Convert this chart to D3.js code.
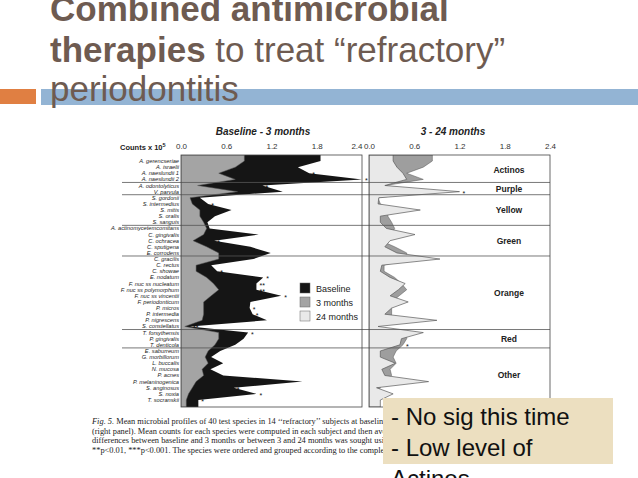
<!DOCTYPE html>
<html>
<head>
<meta charset="utf-8">
<script src="https://cdn.jsdelivr.net/npm/d3@7"></script>
<style>
    body { margin: 0; background: #fff; }
    svg { display: block; font-family: "Liberation Sans", Arial, sans-serif; }
</style>
</head>
<body>
<svg id="slide" width="638" height="478"></svg>
<script>
// Species in plot order (top to bottom)
const species = [
    "A. gerencseriae", "A. israelii", "A. naeslundii 1", "A. naeslundii 2",
    "A. odontolyticus", "V. parvula",
    "S. gordonii", "S. intermedius", "S. mitis", "S. oralis", "S. sanguis",
    "A. actinomycetemcomitans", "C. gingivalis", "C. ochracea", "C. sputigena", "E. corrodens",
    "C. gracilis", "C. rectus", "C. showae", "E. nodatum", "F. nuc ss nucleatum",
    "F. nuc ss polymorphum", "F. nuc ss vincentii", "F. periodonticum", "P. micros",
    "P. intermedia", "P. nigrescens", "S. constellatus",
    "T. forsythensis", "P. gingivalis", "T. denticola",
    "E. saburreum", "G. morbillorum", "L. buccalis", "N. mucosa", "P. acnes",
    "P. melaninogenica", "S. anginosus", "S. noxia", "T. socranskii"
];

const groupNames = ["Actinos", "Purple", "Yellow", "Green", "Orange", "Red", "Other"];
const groupSizes = [4, 2, 5, 5, 12, 3, 9];

// Mean counts x 10^5
const baseline = [
    1.85, 1.55, 1.7, 2.4, 1.08, 1.35,
    0.25, 0.36, 0.67, 0.45, 0.35,
    0.38, 1.03, 0.44, 0.92, 1.19,
    0.96, 0.4, 0.48, 1.09, 1.0, 1.0, 1.33, 0.92, 0.91, 0.95, 1.14, 0.12,
    0.89, 0.83, 0.72,
    0.52, 0.4, 0.56, 0.39, 0.56, 1.61, 0.7, 1.0, 0.23
];
const months3 = [
    0.84, 0.72, 0.5, 0.72, 0.22, 0.75,
    0.12, 0.15, 0.25, 0.25, 0.3,
    0.34, 0.3, 0.16, 0.34, 0.5,
    0.5, 0.2, 0.2, 0.34, 0.43, 0.5, 0.4, 0.3, 0.3, 0.3, 0.28, 0.05,
    0.5, 0.5, 0.45,
    0.36, 0.32, 0.36, 0.28, 0.3, 0.2, 0.15, 0.1, 0.07
];
const months24 = [
    0.32, 0.37, 0.45, 0.5, 0.21, 1.2,
    0.13, 0.12, 0.68, 0.15, 0.15,
    0.23, 0.61, 0.28, 0.21, 0.37,
    0.94, 0.17, 0.15, 0.28, 0.48, 0.39, 0.28, 0.52, 0.3, 0.21, 0.9, 0.12,
    0.72, 0.43, 0.41,
    0.15, 0.15, 0.35, 0.17, 0.21, 0.79, 0.1, 0.32, 0.15
];

const tickValues = [0, 0.6, 1.2, 1.8, 2.4];

// Significance marks: [species, stars]
const sigLeft = [
    ["A. naeslundii 1", "*"], ["A. naeslundii 2", "*"], ["A. odontolyticus", "*"],
    ["S. intermedius", "*"], ["C. ochracea", "*"], ["C. showae", "*"], ["E. nodatum", "*"],
    ["F. nuc ss nucleatum", "**"], ["F. nuc ss polymorphum", "**"], ["F. nuc ss vincentii", "*"],
    ["P. micros", "*"], ["P. intermedia", "*"], ["S. constellatus", "**"],
    ["T. forsythensis", "*"], ["S. anginosus", "*"], ["S. noxia", "*"], ["T. socranskii", "*"]
];
const sigRight = [["V. parvula", "*"], ["T. denticola", "*"]];

const legendLabels = ["Baseline", "3 months", "24 months"];

const captionLines = [
    " Mean microbial profiles of 40 test species in 14 \u2018\u2018refractory\u2019\u2019 subjects at baseline, 3 and 24 months (left panel) and",
    "(right panel). Mean counts for each species were computed in each subject and then averaged across subjects at each time point.",
    "differences between baseline and 3 months or between 3 and 24 months was sought using the Wilcoxon signed ranks test; *p<0.05,",
    "**p<0.01, ***p<0.001. The species were ordered and grouped according to the complexes described by Socransky et al. (1998)."
];

const notes = ["- No sig this time", "- Low level of", "Actinos"];

/* SLIDE */

const svg = d3.select("#slide");
const brown = "#6e5b51";

svg.append("rect").attr("x", 0).attr("y", 89).attr("width", 36).attr("height", 15).attr("fill", "#e07f42");
svg.append("rect").attr("x", 41).attr("y", 89).attr("width", 597).attr("height", 16).attr("fill", "#93b4d4");

const title = svg.append("text")
    .attr("x", 50)
    .attr("font-size", 35)
    .attr("fill", brown);
title.append("tspan").attr("x", 50).attr("y", 21).attr("font-weight", "bold").text("Combined antimicrobial");
title.append("tspan").attr("x", 50).attr("y", 62).attr("font-weight", "bold").text("therapies");
title.append("tspan").text(" to treat \u201crefractory\u201d");
title.append("tspan").attr("x", 50).attr("y", 101).text("periodontitis");

/* FIGURE */

const plotTop = 155, plotBottom = 407;
const y = d3.scalePoint().domain(species).range([161, 400]);
const xL = d3.scaleLinear().domain([0, 2.4]).range([181, 362]);
const xR = d3.scaleLinear().domain([0, 2.4]).range([369, 550]);

// profile points, stretched to the top and bottom of the panel
function profile(values) {
    const pts = values.map((v, i) => ({ y: y(species[i]), v: v }));
    return [{ y: plotTop, v: values[0] }, ...pts, { y: plotBottom, v: values[values.length - 1] }];
}

function areaFor(x) {
    return d3.area()
        .y(d => d.y)
        .x0(x(0))
        .x1(d => x(d.v));
}

const fig = svg.append("g");
const defs = fig.append("defs");

defs.selectAll(".panelClip")
    .data([["clipL", xL], ["clipR", xR]])
    .join("clipPath")
    .attr("class", "panelClip")
    .attr("id", d => d[0])
    .append("rect")
    .attr("x", d => d[1](0))
    .attr("y", plotTop)
    .attr("width", d => d[1](2.4) - d[1](0))
    .attr("height", plotBottom - plotTop);

// the note box hides the right part of the caption
defs.append("clipPath")
    .attr("id", "clipCaption")
    .append("rect")
    .attr("x", 0).attr("y", 400)
    .attr("width", 383).attr("height", 78);

// Left panel: baseline (black) under 3 months (grey)
const left = fig.append("g").attr("clip-path", "url(#clipL)");
left.append("path")
    .attr("d", areaFor(xL)(profile(baseline)))
    .attr("fill", "#151515");
left.append("path")
    .attr("d", areaFor(xL)(profile(months3)))
    .attr("fill", "#a4a4a4")
    .attr("stroke", "#555")
    .attr("stroke-width", 0.5);

// Right panel: 3 months (grey) under 24 months (light)
const right = fig.append("g").attr("clip-path", "url(#clipR)");
right.append("path")
    .attr("d", areaFor(xR)(profile(months3)))
    .attr("fill", "#9e9e9e")
    .attr("stroke", "#555")
    .attr("stroke-width", 0.5);
right.append("path")
    .attr("d", areaFor(xR)(profile(months24)))
    .attr("fill", "#e9e9e9")
    .attr("stroke", "#5a5a5a")
    .attr("stroke-width", 0.7);

// Group separators
const cuts = d3.cumsum(groupSizes).slice(0, -1);
fig.selectAll(".sep")
    .data(cuts)
    .join("line")
    .attr("class", "sep")
    .attr("x1", 122)
    .attr("x2", xR(2.4))
    .attr("y1", k => (y(species[k - 1]) + y(species[k])) / 2)
    .attr("y2", k => (y(species[k - 1]) + y(species[k])) / 2)
    .attr("stroke", "#555")
    .attr("stroke-width", 0.8);

// Panel frames and top axes
[xL, xR].forEach((x, p) => {
    fig.append("rect")
        .attr("x", x(0))
        .attr("y", plotTop)
        .attr("width", x(2.4) - x(0))
        .attr("height", plotBottom - plotTop)
        .attr("fill", "none")
        .attr("stroke", "#444")
        .attr("stroke-width", 0.8);

    const ax = fig.append("g")
        .attr("transform", `translate(0,${plotTop})`)
        .call(d3.axisTop(x).tickValues(tickValues).tickFormat(d3.format(".1f")).tickSize(0).tickPadding(6));
    ax.select(".domain").remove();
    ax.selectAll("text")
        .attr("font-family", "Liberation Sans, Arial, sans-serif")
        .attr("font-size", 8)
        .attr("fill", "#333");
    // left panel's last label sits just before the right panel's 0.0
    if (p === 0) {
        ax.selectAll("text").filter(d => d === 2.4)
            .attr("text-anchor", "end")
            .attr("dx", 0);
    }
});

// Group names
const starts = [0, ...cuts];
fig.selectAll(".grp")
    .data(groupNames)
    .join("text")
    .attr("class", "grp")
    .attr("x", 509)
    .attr("y", (d, i) => (y(species[starts[i]]) + y(species[starts[i] + groupSizes[i] - 1])) / 2)
    .attr("dy", "0.35em")
    .attr("text-anchor", "middle")
    .attr("font-size", 8.5)
    .attr("font-weight", "bold")
    .attr("fill", "#222")
    .text(d => d);

// Species names
fig.selectAll(".sp")
    .data(species)
    .join("text")
    .attr("class", "sp")
    .attr("x", 179)
    .attr("y", d => y(d))
    .attr("dy", "0.35em")
    .attr("text-anchor", "end")
    .attr("font-size", 5.7)
    .attr("font-style", "italic")
    .attr("fill", "#1a1a1a")
    .text(d => d);

// Significance stars
const idx = name => species.indexOf(name);
fig.selectAll(".sigL")
    .data(sigLeft)
    .join("text")
    .attr("class", "sigL")
    .attr("x", d => xL(Math.max(baseline[idx(d[0])], months3[idx(d[0])])) + 3)
    .attr("y", d => y(d[0]) + 4)
    .attr("font-size", 7)
    .attr("fill", "#111")
    .text(d => d[1]);
fig.selectAll(".sigR")
    .data(sigRight)
    .join("text")
    .attr("class", "sigR")
    .attr("x", d => xR(Math.max(months3[idx(d[0])], months24[idx(d[0])])) + 3)
    .attr("y", d => y(d[0]) + 4)
    .attr("font-size", 7)
    .attr("fill", "#111")
    .text(d => d[1]);

// Legend
const legendFill = ["#151515", "#a4a4a4", "#e9e9e9"];
const legend = fig.selectAll(".lg")
    .data(legendLabels)
    .join("g")
    .attr("class", "lg")
    .attr("transform", (d, i) => `translate(300,${283 + i * 14})`);
legend.append("rect")
    .attr("width", 10)
    .attr("height", 10)
    .attr("fill", (d, i) => legendFill[i])
    .attr("stroke", "#666")
    .attr("stroke-width", 0.5);
legend.append("text")
    .attr("x", 16)
    .attr("y", 9)
    .attr("font-size", 9)
    .attr("fill", "#222")
    .text(d => d);

// Titles
fig.append("text")
    .attr("x", 263).attr("y", 135)
    .attr("text-anchor", "middle")
    .attr("font-size", 10).attr("font-weight", "bold").attr("font-style", "italic")
    .attr("fill", "#222")
    .text("Baseline - 3 months");
fig.append("text")
    .attr("x", 453).attr("y", 135)
    .attr("text-anchor", "middle")
    .attr("font-size", 10).attr("font-weight", "bold").attr("font-style", "italic")
    .attr("fill", "#222")
    .text("3 -  24 months");

const counts = fig.append("text")
    .attr("x", 120).attr("y", 150)
    .attr("font-size", 7.5).attr("font-weight", "bold")
    .attr("fill", "#222")
    .text("Counts x 10");
counts.append("tspan").attr("dy", -3).attr("font-size", 5.5).text("5");

// Caption
const caption = fig.append("g")
    .attr("clip-path", "url(#clipCaption)")
    .attr("font-family", "Liberation Serif, Times New Roman, serif")
    .attr("font-size", 8.4)
    .attr("fill", "#222");
caption.selectAll("text")
    .data(captionLines)
    .join("text")
    .attr("x", 92)
    .attr("y", (d, i) => 424 + i * 9.6)
    .each(function (d, i) {
        const t = d3.select(this);
        if (i === 0) t.append("tspan").attr("font-style", "italic").text("Fig. 5.");
        t.append("tspan").text(d);
    });

/* NOTE BOX */

svg.append("rect")
    .attr("x", 383).attr("y", 398)
    .attr("width", 230).attr("height", 66)
    .attr("fill", "#ecdfc0");
svg.selectAll(".note")
    .data(notes)
    .join("text")
    .attr("class", "note")
    .attr("x", 391)
    .attr("y", (d, i) => 425 + i * 31)
    .attr("font-size", 24)
    .attr("fill", "#111")
    .text(d => d);
</script>
</body>
</html>
